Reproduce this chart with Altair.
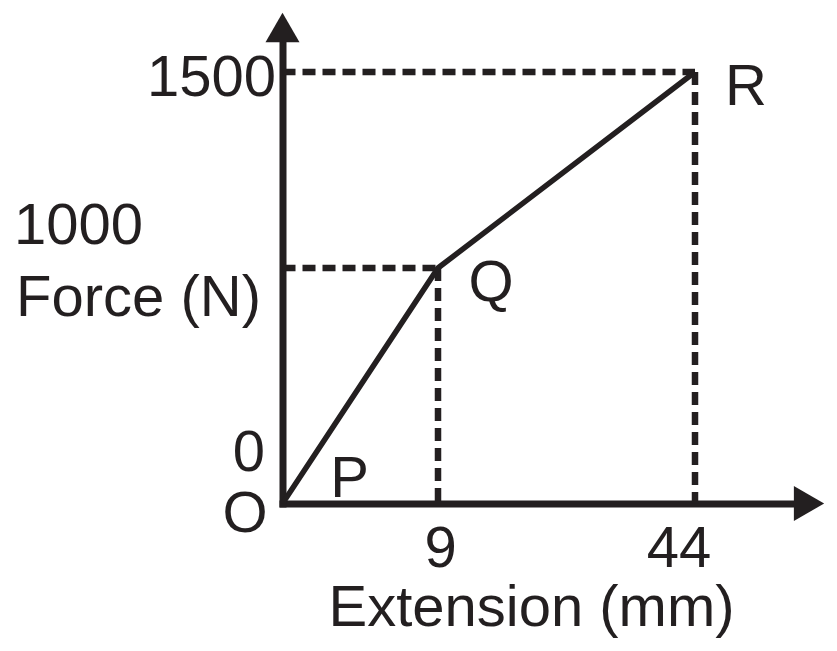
import altair as alt
import pandas as pd

# ---- data ----
point_names = ["O", "Q", "R"]
extension_mm = [0, 9, 44]
force_n = [0, 1000, 1500]

label_names = ["O", "P", "Q", "R"]
label_ext = [0, 0, 9, 44]
label_force = [0, 0, 1000, 1500]

x_ticks = [9, 44]
y_ticks = [0, 1000, 1500]
x_axis_end = 52
y_axis_end = 1700

INK = "#231f20"
FONT = "Liberation Sans"
FS = 58

PLOT_W = 526.5
PLOT_H = 476

line_df = pd.DataFrame({"x": extension_mm, "y": force_n, "name": point_names,
                        "order": list(range(len(point_names)))})

guides = []
for xv, yv in zip(extension_mm[1:], force_n[1:]):
    guides.append({"x": 0, "x2": xv, "y": yv, "y2": yv})
    guides.append({"x": xv, "x2": xv, "y": yv, "y2": 0})
guide_df = pd.DataFrame(guides)

label_df = pd.DataFrame({"name": label_names, "x": label_ext, "y": label_force})

arrow_df = pd.DataFrame({"x": [0, x_axis_end], "y": [y_axis_end, 0],
                         "dir": ["up", "right"]})

# piecewise scales: the drawing is not to scale
x_scale = alt.Scale(domain=[0, 9, 44, x_axis_end], range=[0, 155.5, 412.5, PLOT_W],
                    nice=False, zero=False)
y_scale = alt.Scale(domain=[0, 1000, 1500, y_axis_end], range=[PLOT_H, 240.5, 44.5, 0],
                    nice=False, zero=False)

x_axis = alt.Axis(
    values=x_ticks, title="Extension (mm)", grid=False, format="d",
    domain=True, domainColor=INK, domainWidth=7, domainCap="square",
    ticks=False, tickSize=0,
    labelFont=FONT, labelFontSize=FS, labelColor=INK, labelPadding=17,
    labelOverlap=False, labelFlush=False, labelBound=False,
    labelOffset={"condition": {"test": "datum.value === 44", "value": -16.5}, "value": 2},
    titleFont=FONT, titleFontSize=FS, titleFontWeight="normal", titleColor=INK,
    titleX=248.5, titleY=121.5, titleAlign="center", titleBaseline="alphabetic",
)
y_axis = alt.Axis(
    values=y_ticks, title="Force (N)", grid=False, format="d",
    domain=True, domainColor=INK, domainWidth=7, domainCap="square",
    ticks=False, tickSize=0,
    labelFont=FONT, labelFontSize=FS, labelColor=INK,
    labelOverlap=False, labelFlush=False, labelBound=False,
    labelPadding={"condition": [{"test": "datum.value === 1000", "value": 140},
                                {"test": "datum.value === 0", "value": 18}], "value": 7},
    labelOffset={"condition": [{"test": "datum.value === 1000", "value": -42},
                               {"test": "datum.value === 0", "value": -50}], "value": 6},
    titleFont=FONT, titleFontSize=FS, titleFontWeight="normal", titleColor=INK,
    titleAngle=0, titleX=-144.5, titleY=287.5, titleAlign="center", titleBaseline="alphabetic",
)

X = alt.X("x:Q", scale=x_scale, axis=x_axis)
Y = alt.Y("y:Q", scale=y_scale, axis=y_axis)

dashes = alt.Chart(guide_df).mark_rule(
    color=INK, strokeWidth=6.5, strokeDash=[13, 7], strokeCap="butt"
).encode(x=X, x2="x2:Q", y=Y, y2="y2:Q")

curve = alt.Chart(line_df).mark_line(
    color=INK, strokeWidth=5.5, strokeJoin="miter"
).encode(x=X, y=Y, order="order:Q")

arrows = []
for d, shape, size in [("up", "triangle-up", 1156), ("right", "triangle-right", 1225)]:
    arrows.append(
        alt.Chart(arrow_df).transform_filter(alt.datum.dir == d).mark_point(
            shape=shape, filled=True, size=size, color=INK, opacity=1, strokeWidth=0
        ).encode(x=X, y=Y)
    )

offsets = {"O": (-37.5, 11.5), "P": (67, -24), "Q": (53, 16), "R": (51, 16)}
texts = []
for nm, (ddx, ddy) in offsets.items():
    texts.append(
        alt.Chart(label_df).transform_filter(alt.datum.name == nm).mark_text(
            font=FONT, fontSize=FS, color=INK, align="center", baseline="middle",
            dx=ddx, dy=ddy
        ).encode(x=X, y=Y, text="name:N")
    )

chart = alt.layer(dashes, curve, *arrows, *texts).properties(
    width=PLOT_W, height=PLOT_H,
    padding={"left": 274.5, "top": 19.5, "right": 20, "bottom": 139.5},
    autosize=alt.AutoSizeParams(type="none"),
    background="white",
).configure_view(stroke=None)

chart.save("out.html", embed_options={"renderer": "svg", "actions": False})
